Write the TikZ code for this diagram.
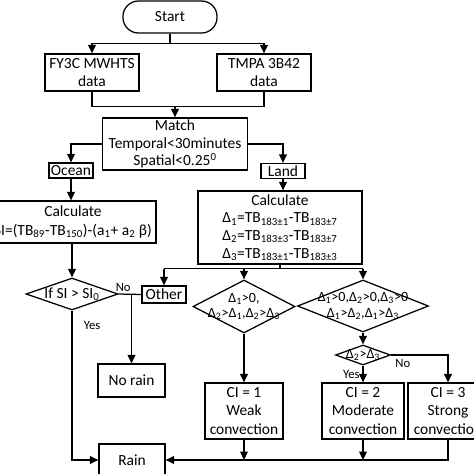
\documentclass[tikz,border=0pt]{standalone}
\usepackage{fontspec}
\setmainfont{Carlito}
\usetikzlibrary{shapes.geometric,arrows.meta,positioning,calc}

\begin{document}
\begin{tikzpicture}[x=0.025cm, y=-0.025cm, line width=0.9pt, >={Triangle[length=6pt,width=5.5pt]},
	font=\fontsize{11}{13}\selectfont,
	box/.style={draw, rectangle, align=center, inner sep=0.5pt},
	decision/.style={draw, diamond, inner sep=0pt},
	dtext/.style={align=center, font=\fontsize{10}{11}\selectfont, inner sep=0pt},
	lbl/.style={font=\fontsize{9}{10}\selectfont, inner sep=1pt}]
	\useasboundingbox (0,0) rectangle (474,474);
	% top part
	\node[draw, rectangle, rounded corners=11pt, minimum width=2.35cm, minimum height=0.8cm] (start) at (170,17) {Start};
	\node[box, minimum width=2.35cm, minimum height=0.925cm] (fy3c) at (92,72.5) {FY3C MWHTS\\data};
	\node[box, minimum width=2.35cm, minimum height=0.925cm] (tmpa) at (264,72.5) {TMPA 3B42\\data};
	\node[box, minimum width=3.625cm, minimum height=1.3cm, font=\fontsize{11}{12.5}\selectfont] (match) at (175,144) {Match\\Temporal<30minutes\\Spatial<0.25\textsuperscript{0}};
	\node[box, minimum width=1.1cm, minimum height=0.375cm] (ocean) at (71,170.5) {Ocean};
	\node[box, minimum width=1.1cm, minimum height=0.375cm] (land) at (283,171) {Land};
	% ocean branch
	\node[box, minimum width=4.15cm, minimum height=1.05cm] (ocalc) at (73,222) {Calculate\\SI=(TB\textsubscript{89}-TB\textsubscript{150})-(a\textsubscript{1}+ a\textsubscript{2} β)};
	\node[decision, minimum width=2.3cm, minimum height=0.8cm, label={[dtext, font=\fontsize{11}{12}\selectfont]center:If SI > SI\textsubscript{0}}] (sicheck) at (72,294) {};
	\node[box, minimum width=1.1cm, minimum height=0.425cm] (other) at (164,294.5) {Other};
	\node[box, minimum width=1.675cm, minimum height=0.825cm] (norain) at (131.5,380.5) {No rain};
	\node[box, minimum width=1.65cm, minimum height=0.8cm] (rain) at (132,460) {Rain};
	% land branch
	\node[box, inner sep=0pt, minimum width=4.1cm, minimum height=1.825cm, font=\fontsize{11}{12.6}\selectfont] (lcalc) at (280,227.5) {Calculate\\Δ\textsubscript{1}=TB\textsubscript{183±1}-TB\textsubscript{183±7}\\Δ\textsubscript{2}=TB\textsubscript{183±3}-TB\textsubscript{183±7}\\Δ\textsubscript{3}=TB\textsubscript{183±1}-TB\textsubscript{183±3}};
	\node[decision, minimum width=2.55cm, minimum height=1.325cm, label={[dtext]center:Δ\textsubscript{1}>0,\\Δ\textsubscript{2}>Δ\textsubscript{1},Δ\textsubscript{2}>Δ\textsubscript{3}}] (weakcheck) at (244,306.5) {};
	\node[decision, minimum width=3.275cm, minimum height=1.3cm, label={[dtext]center:Δ\textsubscript{1}>0,Δ\textsubscript{2}>0,Δ\textsubscript{3}>0\\Δ\textsubscript{1}>Δ\textsubscript{2},Δ\textsubscript{1}>Δ\textsubscript{3}}] (convcheck) at (363,306) {};
	\node[decision, minimum width=1.375cm, minimum height=0.5cm, label={[dtext]center:Δ\textsubscript{2}>Δ\textsubscript{3}}] (deltacheck) at (363,355) {};
	\node[box, minimum width=1.95cm, minimum height=1.4cm] (ci1) at (244,411) {CI = 1\\Weak\\convection};
	\node[box, minimum width=2.05cm, minimum height=1.4cm] (ci2) at (363,411) {CI = 2\\Moderate\\convection};
	\node[box, minimum width=2cm, minimum height=1.4cm] (ci3) at (448,411) {CI = 3\\Strong\\convection};
	% connectors
	\draw[->] (start.south) -- ++(0,10) -| (fy3c.north);
	\draw[->] (start.south) -- ++(0,10) -| (tmpa.north);
	\draw (fy3c.south) -- ++(0,15) coordinate (join) -| (tmpa.south);
	\draw[->] (join -| match.north) -- (match.north);
	\draw[->] (match.west) -| (ocean.north);
	\draw[->] (match.east) -| (land.north);
	\draw[->] (ocean.south) -- (ocean.south |- ocalc.north);
	\draw[->] (land.south) -- (land.south |- lcalc.north);
	\draw[->] (ocalc.south -| sicheck.north) -- (sicheck.north);
	\draw (sicheck.east) -- node[lbl, above, pos=0.2] {No} (other.west);
	\draw[->] (sicheck.east -| norain.north) -- (norain.north);
	\draw[->] (sicheck.south) |- node[lbl, pos=0.05, right=7pt] {Yes} (rain.west);
	\draw (lcalc.south) -- ++(0,4) coordinate (branch);
	\draw (branch -| other.north) -- (branch -| convcheck.north);
	\draw[->] (branch -| other.north) -- (other.north);
	\draw[->] (branch -| weakcheck.north) -- (weakcheck.north);
	\draw[->] (branch -| convcheck.north) -- (convcheck.north);
	\draw[->] (weakcheck.south) -- (ci1.north);
	\draw[->] (convcheck.south) -- (deltacheck.north);
	\draw[->] (deltacheck.south) -- node[lbl, left=1pt] {Yes} (ci2.north);
	\draw[->] (deltacheck.east) -| node[lbl, below right, pos=0.02, yshift=-2pt] {No} (ci3.north);
	\draw[->] (ci3.south) |- (rain.east);
	\draw[->] (ci1.south) -- (ci1.south |- rain.east);
	\draw[->] (ci2.south) -- (ci2.south |- rain.east);
\end{tikzpicture}
\end{document}
